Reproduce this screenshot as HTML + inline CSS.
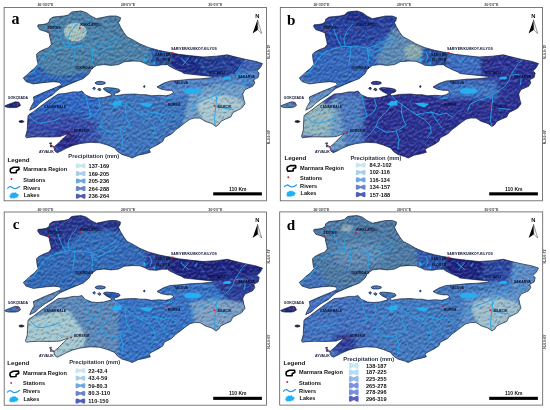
<!DOCTYPE html>
<html><head><meta charset="utf-8"><title>Precipitation maps</title>
<style>
html,body{margin:0;padding:0;background:#fff}
svg{display:block}
text{font-family:"Liberation Sans",sans-serif}
.lt{font-size:5.6px;font-weight:bold;fill:#111}
.lg{font-size:6.2px;font-weight:bold;fill:#111}
.st{font-size:3.5px;font-weight:bold;fill:#0b1030}
.sl{opacity:.75}
.tk{font-size:3.5px;font-weight:bold;fill:#444}
.pl{font-family:"Liberation Serif",serif;font-weight:bold;font-size:17.5px;fill:#000}
</style></head><body>
<svg width="550" height="410" viewBox="0 0 550 410">
<defs>
<path id="landp" d="M37.6,26.4 L38.1,24.8 L42.0,24.6 L46.4,23.7 L49.1,22.0 L49.7,19.3 L53.0,17.1 L58.5,16.5 L64.0,16.0 L68.4,14.9 L71.6,12.1 L74.4,11.6 L81.0,11.0 L86.5,12.7 L90.9,16.0 L96.4,18.7 L101.9,17.6 L109.6,16.0 L116.2,16.0 L120.5,17.6 L120.0,20.4 L118.4,22.6 L120.5,27.0 L123.8,32.5 L127.1,36.9 L132.2,39.4 L139.5,43.7 L148.2,47.4 L158.5,50.3 L165.8,51.8 L172.0,52.8 L169.5,57.6 L168.9,62.0 L167.3,64.7 L162.0,64.7 L156.5,65.8 L148.8,65.3 L145.5,63.6 L140.0,61.3 L133.0,61.0 L124.3,61.7 L118.5,64.6 L111.2,65.4 L103.9,64.6 L96.5,65.4 L91.4,69.0 L89.2,73.4 L83.4,78.5 L76.0,81.4 L68.8,84.4 L60.0,88.3 L56.0,91.5 L52.4,94.9 L45.1,99.2 L39.2,103.6 L35.6,107.3 L29.7,110.2 L31.2,106.5 L34.1,101.4 L33.4,97.0 L40.0,94.1 L46.5,91.2 L53.9,88.3 L60.4,85.4 L61.2,84.6 L59.7,82.4 L53.9,81.7 L45.0,82.4 L33.4,83.9 L26.0,81.6 L23.3,77.9 L26.6,75.2 L29.9,71.9 L34.3,68.6 L38.1,64.2 L37.0,59.8 L36.5,54.3 L38.7,52.1 L44.2,49.3 L48.6,47.7 L51.3,44.4 L50.8,41.3 L49.7,36.9 L49.1,33.0 L45.3,31.4 L39.8,29.7Z M172.6,53.0 L178.5,54.3 L189.5,55.6 L203.2,57.0 L216.4,56.2 L227.4,54.8 L234.0,56.6 L245.0,59.2 L256.0,61.4 L262.5,63.6 L260.3,67.6 L257.0,70.9 L259.2,73.1 L258.1,77.5 L253.7,79.7 L254.8,83.0 L252.6,86.3 L245.0,89.6 L242.7,94.0 L243.8,99.5 L245.0,103.8 L241.6,108.2 L237.3,110.4 L232.9,112.6 L230.7,117.0 L225.2,119.2 L220.8,121.4 L218.6,124.7 L216.0,126.5 L212.0,123.6 L205.4,121.4 L200.0,118.1 L194.4,118.1 L190.0,119.2 L186.0,122.0 L180.0,126.7 L176.0,129.6 L171.6,134.0 L164.3,137.7 L162.9,141.3 L158.5,144.2 L151.2,147.9 L149.0,149.4 L150.4,152.3 L145.3,153.7 L138.0,155.2 L132.2,158.1 L129.2,156.7 L121.9,154.5 L117.5,151.5 L114.6,147.9 L107.3,145.0 L100.0,142.8 L90.0,142.3 L80.0,143.6 L72.7,145.5 L66.4,148.2 L61.0,151.0 L57.3,152.7 L55.0,151.3 L54.0,148.2 L54.5,146.4 L59.0,142.7 L61.4,140.0 L66.4,135.5 L68.0,133.6 L60.0,136.6 L50.0,137.0 L38.0,136.8 L30.0,137.2 L26.5,137.8 L25.5,136.5 L27.3,130.0 L27.5,124.0 L28.0,116.0 L29.0,114.6 L33.4,111.7 L39.2,107.3 L45.1,102.9 L52.4,97.8 L58.2,94.1 L65.5,93.4 L72.9,91.9 L78.7,91.9 L82.0,91.0 L85.0,94.7 L91.6,97.5 L97.1,98.0 L103.7,97.5 L110.3,95.8 L112.0,94.6 L110.0,93.3 L106.4,91.5 L103.3,89.0 L104.0,88.0 L107.0,87.6 L113.6,88.1 L119.0,89.2 L120.2,90.9 L118.0,92.5 L114.2,93.6 L114.5,95.0 L115.8,95.8 L123.5,94.4 L134.5,94.0 L140.5,94.7 L146.0,94.7 L151.5,95.8 L159.2,95.3 L165.8,95.8 L170.2,94.7 L174.0,92.3 L171.3,90.3 L166.9,90.3 L161.4,89.2 L157.0,87.0 L163.6,83.2 L170.2,81.0 L180.0,80.3 L191.0,79.2 L202.0,78.7 L213.0,77.5 L213.0,76.5 L202.0,75.4 L191.0,74.3 L184.0,73.5 L181.8,71.9 L176.3,69.7 L169.7,66.4 L167.7,64.9 L169.3,62.0 L169.9,57.6Z M4.6,106.0 L8.0,104.5 L12.0,103.0 L15.4,101.8 L19.0,102.3 L20.5,105.4 L18.0,107.0 L15.4,107.6 L9.2,107.6 L6.0,107.0Z M19.0,121.0 L22.0,120.4 L24.2,121.6 L22.0,122.6 L19.5,122.3Z M94.9,83.0 L97.0,81.6 L101.0,81.3 L105.0,82.2 L105.3,83.6 L102.0,84.5 L97.0,84.4Z M92.7,88.5 L94.0,87.0 L95.4,88.0 L94.5,89.8Z M97.6,89.5 L99.0,88.1 L101.0,89.3 L100.0,90.9Z M143.6,86.0 L144.8,85.6 L145.0,87.2 L143.8,87.3Z M49.6,143.0 L51.6,142.8 L51.2,144.0 L50.0,144.2Z M50.2,145.2 L52.0,145.0 L52.2,146.6 L50.6,147.0Z"/>
<clipPath id="land"><use href="#landp"/></clipPath>
<clipPath id="ella"><ellipse cx="75.2" cy="32" rx="11.3" ry="9.3"/></clipPath>
<filter id="b1" x="-30%" y="-30%" width="160%" height="160%"><feGaussianBlur stdDeviation="0.8"/></filter>
<filter id="b2" x="-30%" y="-30%" width="160%" height="160%"><feGaussianBlur stdDeviation="1.6"/></filter>
<filter id="b3" x="-30%" y="-30%" width="160%" height="160%"><feGaussianBlur stdDeviation="2.4000000000000004"/></filter>
<filter id="b4" x="-30%" y="-30%" width="160%" height="160%"><feGaussianBlur stdDeviation="3.2"/></filter>
<filter id="relief" x="0" y="0" width="100%" height="100%" color-interpolation-filters="sRGB">
<feTurbulence type="fractalNoise" baseFrequency="0.3 0.6" numOctaves="4" seed="7"/>
<feDiffuseLighting surfaceScale="2" diffuseConstant="0.75" lighting-color="#ffffff"><feDistantLight azimuth="315" elevation="45"/></feDiffuseLighting>
</filter>
<path id="bow" d="M-4.6,-1.6 C-3,-2.4 -1.5,-1.2 0,-0.9 C1.5,-1.2 3,-2.4 4.6,-1.6 C5,-0.5 5,0.8 4.6,1.8 C3,2.4 1.5,1.2 0,0.9 C-1.5,1.2 -3,2.4 -4.6,1.8 C-5,0.8 -5,-0.5 -4.6,-1.6Z"/>
<g id="rivers" fill="none" stroke="#25a4ea" stroke-width="0.95" stroke-linecap="round" stroke-linejoin="round"><path d="M26.0,74.0 L34.0,72.0 L40.0,62.2 L45.8,54.9 L53.2,50.5 L62.0,47.6 L69.2,46.1 L75.0,46.8 L83.9,46.8 L91.2,48.3 L94.1,53.4"/><path d="M64.9,46.1 L62.0,40.3 L59.0,33.0 L56.0,24.2"/><path d="M69.2,46.1 L67.8,38.8 L70.7,31.5 L76.5,24.2"/><path d="M75.0,46.8 L74.4,53.4 L72.9,63.6"/><path d="M91.2,48.3 L92.6,56.3 L91.9,63.6"/><path d="M94.1,53.4 L102.9,50.5 L113.1,44.6 L119.0,40.3"/><path d="M91.2,48.3 L105.8,43.2 L116.0,35.9"/><path d="M116.6,96.6 L120.2,101.0 L126.1,104.6 L131.9,109.0 L140.7,114.9 L148.0,119.2 L153.9,125.1 L155.3,132.4 L151.0,138.2"/><path d="M126.1,104.6 L125.4,112.0 L127.6,120.7 L130.5,125.0 L120.2,131.0 L123.2,139.7 L121.7,148.5"/><path d="M115.1,106.0 L110.0,112.0 L102.7,119.2 L99.8,126.5 L95.4,132.4 L89.5,138.2"/><path d="M98.3,98.8 L100.5,106.0 L97.6,112.0 L91.0,116.3 L83.7,119.2"/><path d="M99.8,126.5 L110.0,132.4 L120.2,131.0"/><path d="M140.7,114.9 L146.6,113.4 L155.3,112.0 L163.7,114.9 L170.0,113.0 L176.0,117.0"/><path d="M155.3,112.0 L160.0,120.0 L166.0,128.0"/><path d="M29.1,115.7 L33.5,120.0 L37.9,123.0 L43.0,123.0 L48.9,121.5 L53.3,120.8 L60.0,118.0"/><path d="M85.5,94.5 L88.0,105.5 L91.0,116.3"/><path d="M246.7,59.0 L241.7,64.0 L237.9,70.0 L234.9,75.1 L232.7,81.0 L228.4,86.8 L221.8,91.2 L215.9,94.9 L216.7,99.2 L215.9,105.1 L215.2,112.4 L214.5,119.7 L215.5,126.0"/><path d="M215.9,94.9 L208.6,98.5 L201.3,100.7 L194.0,104.4 L191.7,111.0"/><path d="M234.9,75.1 L242.2,74.4 L245.2,78.8 L244.4,84.6"/><path d="M217.4,106.5 L225.0,108.5 L233.5,109.5"/><path d="M163.7,99.0 L171.7,98.0"/><path d="M181.0,58.5 L188.5,65.0"/><path d="M188.5,58.5 L183.0,65.0"/><path d="M197.0,58.6 L195.0,62.0"/><path d="M150.0,52.0 L152.0,57.0 L150.0,61.0"/></g>
<g id="streams" fill="none" stroke="#3a9ae6" stroke-width="0.5" opacity="0.7" stroke-linecap="round"><path d="M63.4,28.7 L64.5,36.0 L65.6,43.3"/><path d="M83.9,28.7 L76.5,37.4 L72.9,45.5"/><path d="M91.2,31.6 L82.4,40.4 L76.5,46.2"/><path d="M99.0,30.0 L92.0,39.0 L86.0,46.5"/><path d="M108.0,26.0 L101.0,36.0 L96.0,44.0"/><path d="M52.0,30.0 L56.0,38.0 L60.0,45.0"/><path d="M100.0,56.0 L108.0,53.0 L116.0,47.0"/><path d="M44.0,66.0 L52.0,62.0 L60.0,56.0"/><path d="M134.0,100.0 L136.0,108.0 L140.7,114.9"/><path d="M60.0,100.0 L66.0,108.0 L72.0,112.0 L83.7,119.2"/><path d="M200.0,60.0 L203.0,68.0 L208.0,74.0"/><path d="M222.0,60.0 L226.0,66.0 L230.0,72.0"/><path d="M228.0,100.0 L232.0,94.0 L240.0,90.0"/><path d="M176.0,117.0 L182.0,112.0 L188.0,108.0"/></g>
</defs>
<rect width="550" height="410" fill="#fff"/>
<g transform="translate(0.0,0.0)">
<g clip-path="url(#land)">
<rect x="0" y="0" width="275" height="205" fill="#3b72bd"/>
<path d="M20.0,5.0 L175.0,5.0 L171.5,70.0 L80.0,80.0 L20.0,120.0Z" fill="#4a7fa8" opacity="1"/>
<path d="M18.0,62.0 L38.0,63.0 L47.0,73.0 L58.0,76.5 L72.0,75.0 L88.0,71.5 L88.0,92.0 L25.0,115.0Z" fill="#2f62b6" opacity="1" filter="url(#b2)"/>
<ellipse cx="75.2" cy="32" rx="11.3" ry="9.3" fill="#a0bcb8" opacity="1"/>
<g clip-path="url(#ella)" stroke="#dfeee8" stroke-width="0.55" opacity="0.55"><path d="M60.0,44 L67.0,20"/><path d="M62.6,44 L69.6,20"/><path d="M65.2,44 L72.2,20"/><path d="M67.8,44 L74.8,20"/><path d="M70.4,44 L77.4,20"/><path d="M73.0,44 L80.0,20"/><path d="M75.6,44 L82.6,20"/><path d="M78.2,44 L85.2,20"/><path d="M80.8,44 L87.8,20"/><path d="M83.4,44 L90.4,20"/><path d="M86.0,44 L93.0,20"/><path d="M88.6,44 L95.6,20"/></g>
<path d="M150.0,44.0 L172.0,50.0 L172.0,70.0 L150.0,70.0Z" fill="#2a57a8" opacity="1" filter="url(#b2)"/>
<path d="M171.0,50.0 L270.0,50.0 L270.0,80.0 L160.0,100.0Z" fill="#4f82c6" opacity="1"/>
<path d="M171.5,50.0 L198.0,50.0 L247.6,58.6 L244.0,64.0 L235.5,73.0 L222.0,76.0 L205.0,77.0 L183.0,73.0 L170.0,66.0Z" fill="#1d2a86" opacity="1" filter="url(#b1)"/>
<path d="M198.0,52.0 L250.0,56.0 L244.0,64.0 L235.5,73.0 L222.0,76.0 L205.0,77.0 L200.0,70.0Z" fill="#243a95" opacity="1" filter="url(#b2)"/>
<path d="M247.6,56.0 L266.0,60.0 L262.0,70.0 L240.0,72.0 L244.0,64.0Z" fill="#3d62b5" opacity="1" filter="url(#b1)"/>
<path d="M189.5,92.6 L215.8,83.9 L242.0,84.0 L252.0,90.0 L250.0,115.0 L215.0,135.0 L182.0,128.0Z" fill="#6d9cc8" opacity="1" filter="url(#b1)"/>
<path d="M199.3,100.3 L208.0,96.0 L222.4,94.8 L237.7,98.0 L244.3,103.6 L246.5,108.0 L234.4,115.7 L225.7,120.0 L220.0,127.7 L216.0,131.0 L209.0,126.6 L202.6,119.0 L197.0,108.0Z" fill="#a5c5cf" opacity="1" filter="url(#b1)"/>
<path d="M20.0,88.0 L100.0,90.0 L100.0,118.0 L20.0,118.0Z" fill="#2f66c4" opacity="1" filter="url(#b3)"/>
<path d="M20.0,116.4 L61.0,113.6 L82.7,115.0 L99.0,124.5 L100.0,150.0 L40.0,155.0 L20.0,140.0Z" fill="#3448a8" opacity="1" filter="url(#b3)"/>
<ellipse cx="66" cy="140" rx="13" ry="9" fill="#27288a" opacity="1" filter="url(#b3)"/>
<ellipse cx="12.5" cy="105" rx="10" ry="5" fill="#1d2478" opacity="1"/>
<ellipse cx="21.5" cy="121.5" rx="4" ry="3" fill="#101540" opacity="1"/>
<rect x="-200" y="-200" width="700" height="700" transform="rotate(-50 137 102)" filter="url(#relief)" opacity="0.42" style="mix-blend-mode:hard-light"/>
</g>
<use href="#landp" fill="none" stroke="#0a1230" stroke-width="0.65" stroke-linejoin="round"/>
<g clip-path="url(#land)"><use href="#streams"/><use href="#rivers"/></g>
<g>
<path d="M183.8,91.0 L186.0,88.6 L193.0,88.3 L200.0,89.3 L202.0,91.5 L199.0,93.6 L190.0,94.0 L185.0,93.2Z" fill="#22b0f2"/>
<path d="M222.7,78.0 L225.0,76.8 L230.0,76.6 L231.7,78.0 L229.0,79.4 L224.0,79.3Z" fill="#22b0f2"/>
<path d="M111.0,104.6 L115.1,101.0 L121.0,101.0 L121.7,105.4 L115.1,106.0Z" fill="#22b0f2"/>
<path d="M138.5,103.2 L145.1,102.4 L153.1,103.9 L148.0,107.5 L143.7,106.0Z" fill="#22b0f2"/>
<path d="M143.0,58.0 L145.0,57.4 L145.6,61.0 L143.8,61.6Z" fill="#22b0f2"/>
<path d="M153.3,62.4 L155.0,62.0 L155.4,64.6 L153.8,65.0Z" fill="#22b0f2"/>
<circle cx="48" cy="31.4" r="1" fill="#e3152b"/>
<text x="47.5" y="29.2" class="st">EDİRNE</text>
<circle cx="79.9" cy="28.1" r="1" fill="#e3152b"/>
<text x="80.4" y="26.4" class="st">KIRKLARELİ</text>
<text x="75" y="69" class="st">TEKİRDAĞ</text>
<circle cx="172.6" cy="52.9" r="1" fill="#e3152b"/>
<text x="171" y="50.4" class="st">SARIYER/KUMKÖY-KİLYOS</text>
<text x="155" y="55.5" class="st">SARIYER</text>
<text x="156" y="61.3" class="st">FLORYA</text>
<text x="209" y="73.6" class="st">KOCAELİ</text>
<circle cx="235.4" cy="75.4" r="1" fill="#e3152b"/>
<text x="237.9" y="78.2" class="st">SAKARYA</text>
<text x="174" y="84.4" class="st">YALOVA</text>
<circle cx="167.2" cy="101.8" r="1" fill="#e3152b"/>
<text x="168" y="106" class="st">BURSA</text>
<circle cx="214.4" cy="105.7" r="1" fill="#e3152b"/>
<text x="217.6" y="107.6" class="st">BİLECİK</text>
<text x="44" y="107.6" class="st">ÇANAKKALE</text>
<circle cx="17.5" cy="103.8" r="1" fill="#e3152b"/>
<text x="7.7" y="99.1" class="st">GÖKÇEADA</text>
<circle cx="71" cy="133" r="1" fill="#e3152b"/>
<text x="74" y="132" class="st">EDREMİT</text>
<circle cx="53.2" cy="146.8" r="1" fill="#e3152b"/>
<text x="39" y="152.7" class="st">AYVALIK</text>
<text x="257.3" y="17.6" text-anchor="middle" font-size="5.8" font-weight="bold" fill="#111">N</text>
<path d="M257.5,19.8 L252.6,33.5 L257.9,29.7 Z" fill="#000"/>
<path d="M257.5,19.8 L261.7,33.5 L257.9,29.7 Z" fill="#fff" stroke="#000" stroke-width="0.4"/>
<rect x="213.2" y="192.3" width="48.7" height="3.1" fill="#000"/>
<text x="237.8" y="190.9" text-anchor="middle" font-size="5" font-weight="bold" fill="#111">110 Km</text>
<text x="45.4" y="6" text-anchor="middle" class="tk">26°30'0"E</text>
<text x="128" y="6" text-anchor="middle" class="tk">28°0'0"E</text>
<text x="215.3" y="6" text-anchor="middle" class="tk">30°0'0"E</text>
<text transform="translate(267.3,52) rotate(90)" text-anchor="middle" class="tk">41°0'0"N</text>
<text transform="translate(267.3,137.3) rotate(90)" text-anchor="middle" class="tk">40°0'0"N</text>
</g>
<text x="68.3" y="158.3" class="lt" style="font-size:5.8px;fill:#2b3147">Precipitation (mm)</text>
<use href="#bow" transform="translate(80.7,165.8) scale(1,1.3)" fill="#cbe6ef"/>
<text x="88.6" y="167.8" class="lt">137-169</text>
<use href="#bow" transform="translate(80.7,173.5) scale(1,1.3)" fill="#a9cfec"/>
<text x="88.6" y="175.5" class="lt">169-205</text>
<use href="#bow" transform="translate(80.7,180.9) scale(1,1.3)" fill="#6fa8dc"/>
<text x="88.6" y="182.9" class="lt">205-236</text>
<use href="#bow" transform="translate(80.7,188.5) scale(1,1.3)" fill="#6b85cc"/>
<text x="88.6" y="190.5" class="lt">264-288</text>
<use href="#bow" transform="translate(80.7,196.1) scale(1,1.3)" fill="#5060b8"/>
<text x="88.6" y="198.1" class="lt">236-264</text>
<g transform="translate(0,0)"><g>
<text x="7.6" y="161.6" class="lg">Legend</text>
<path d="M10.5,169 L13.5,167.3 L18.8,167.2 L19,169.5 L16.5,170.5 L16.3,172.6 L11,172.8 L10.2,171Z" fill="#fff" stroke="#000" stroke-width="1.6" stroke-linejoin="round"/>
<text x="23.3" y="171.4" class="lt">Marmara Region</text>
<circle cx="11.5" cy="179" r="0.95" fill="#d8152a"/>
<text x="23.3" y="181.6" class="lt">Stations</text>
<path d="M7.8,188.2 C9.5,186.2 11,186.4 12.6,187.8 C14.4,189.3 17,188.6 19.6,186.6" fill="none" stroke="#2b98e6" stroke-width="1.3" stroke-linecap="round"/>
<text x="23.3" y="189.5" class="lt">Rivers</text>
<path d="M9.5,196.4 L10.6,195 L10.2,194 L12,193.6 L12.6,192.7 L14.6,192.9 L15.8,192.6 L16.6,193.8 L18.2,194.2 L18.6,195.6 L17.4,196.3 L17.8,197.2 L15.6,197.4 L14.4,198.3 L12.4,197.9 L10.6,198.3 L10.4,197.2Z" fill="#1fb0f4" stroke="#1fb0f4" stroke-width="0.4" stroke-linejoin="round"/>
<text x="23.7" y="197.1" class="lt">Lakes</text>
</g></g>
<text x="11.6" y="23.9" class="pl" style="font-size:16px">a</text>
</g>
<rect x="4.1" y="7.5" width="262.3" height="193.3" fill="none" stroke="#5a5a5a" stroke-width="0.8"/>
<g transform="translate(276.0,0.0)">
<g clip-path="url(#land)">
<rect x="0" y="0" width="275" height="205" fill="#292f92"/>
<path d="M20.0,5.0 L175.0,5.0 L171.5,70.0 L80.0,80.0 L20.0,120.0Z" fill="#3166bd" opacity="1"/>
<path d="M30.0,5.0 L125.0,5.0 L118.0,30.0 L95.0,46.0 L60.0,48.0 L30.0,52.0Z" fill="#27409f" opacity="1" filter="url(#b2)"/>
<ellipse cx="82" cy="16" rx="16" ry="7" fill="#1f2f8a" opacity="1" filter="url(#b3)"/>
<path d="M116.0,28.0 L99.5,60.0 L110.0,70.0 L175.0,70.0 L175.0,40.0Z" fill="#5a88b5" opacity="1" filter="url(#b1)"/>
<ellipse cx="137" cy="51.7" rx="9.2" ry="7.7" fill="#8aaab0" opacity="1" filter="url(#b1)"/>
<path d="M147.5,44.0 L173.0,50.0 L172.0,70.0 L146.0,70.0Z" fill="#2a55a8" opacity="1" filter="url(#b1)"/>
<path d="M18.0,80.0 L62.0,84.0 L40.0,112.0 L25.0,112.0Z" fill="#5a8ac0" opacity="1" filter="url(#b2)"/>
<path d="M171.0,50.0 L205.0,50.0 L205.0,80.0 L171.0,72.0Z" fill="#3a6ac0" opacity="1" filter="url(#b2)"/>
<path d="M160.0,80.0 L222.0,80.0 L222.0,99.0 L160.0,98.0Z" fill="#3d73c2" opacity="1" filter="url(#b3)"/>
<path d="M62.0,93.0 L88.0,93.0 L88.0,150.0 L50.0,150.0Z" fill="#4a78c0" opacity="1" filter="url(#b3)"/>
<path d="M62.0,95.0 L70.0,150.0 L40.0,150.0 L30.0,120.0Z" fill="#6a9ac5" opacity="1" filter="url(#b2)"/>
<path d="M20.0,108.0 L45.0,100.0 L58.0,112.0 L52.0,136.0 L20.0,136.0Z" fill="#8fb5c0" opacity="1" filter="url(#b2)"/>
<ellipse cx="12.5" cy="105" rx="10" ry="5" fill="#4a80b8" opacity="1"/>
<ellipse cx="21.5" cy="121.5" rx="4" ry="3" fill="#101540" opacity="1"/>
<rect x="-200" y="-200" width="700" height="700" transform="rotate(-50 137 102)" filter="url(#relief)" opacity="0.42" style="mix-blend-mode:hard-light"/>
</g>
<use href="#landp" fill="none" stroke="#0a1230" stroke-width="0.65" stroke-linejoin="round"/>
<g clip-path="url(#land)"><use href="#streams"/><use href="#rivers"/></g>
<g>
<path d="M183.8,91.0 L186.0,88.6 L193.0,88.3 L200.0,89.3 L202.0,91.5 L199.0,93.6 L190.0,94.0 L185.0,93.2Z" fill="#22b0f2"/>
<path d="M222.7,78.0 L225.0,76.8 L230.0,76.6 L231.7,78.0 L229.0,79.4 L224.0,79.3Z" fill="#22b0f2"/>
<path d="M111.0,104.6 L115.1,101.0 L121.0,101.0 L121.7,105.4 L115.1,106.0Z" fill="#22b0f2"/>
<path d="M138.5,103.2 L145.1,102.4 L153.1,103.9 L148.0,107.5 L143.7,106.0Z" fill="#22b0f2"/>
<path d="M143.0,58.0 L145.0,57.4 L145.6,61.0 L143.8,61.6Z" fill="#22b0f2"/>
<path d="M153.3,62.4 L155.0,62.0 L155.4,64.6 L153.8,65.0Z" fill="#22b0f2"/>
<circle cx="48" cy="31.4" r="1" fill="#e3152b"/>
<text x="47.5" y="29.2" class="st">EDİRNE</text>
<circle cx="79.9" cy="28.1" r="1" fill="#e3152b"/>
<text x="80.4" y="26.4" class="st">KIRKLARELİ</text>
<text x="75" y="69" class="st">TEKİRDAĞ</text>
<circle cx="172.6" cy="52.9" r="1" fill="#e3152b"/>
<text x="171" y="50.4" class="st">SARIYER/KUMKÖY-KİLYOS</text>
<text x="155" y="55.5" class="st">SARIYER</text>
<text x="156" y="61.3" class="st">FLORYA</text>
<text x="209" y="73.6" class="st">KOCAELİ</text>
<circle cx="235.4" cy="75.4" r="1" fill="#e3152b"/>
<text x="237.9" y="78.2" class="st">SAKARYA</text>
<text x="174" y="84.4" class="st">YALOVA</text>
<circle cx="167.2" cy="101.8" r="1" fill="#e3152b"/>
<text x="168" y="106" class="st">BURSA</text>
<circle cx="214.4" cy="105.7" r="1" fill="#e3152b"/>
<text x="217.6" y="107.6" class="st">BİLECİK</text>
<text x="44" y="107.6" class="st">ÇANAKKALE</text>
<circle cx="17.5" cy="103.8" r="1" fill="#e3152b"/>
<text x="7.7" y="99.1" class="st">GÖKÇEADA</text>
<circle cx="71" cy="133" r="1" fill="#e3152b"/>
<text x="74" y="132" class="st">EDREMİT</text>
<circle cx="53.2" cy="146.8" r="1" fill="#e3152b"/>
<text x="39" y="152.7" class="st">AYVALIK</text>
<text x="257.3" y="17.6" text-anchor="middle" font-size="5.8" font-weight="bold" fill="#111">N</text>
<path d="M257.5,19.8 L252.6,33.5 L257.9,29.7 Z" fill="#000"/>
<path d="M257.5,19.8 L261.7,33.5 L257.9,29.7 Z" fill="#fff" stroke="#000" stroke-width="0.4"/>
<rect x="213.2" y="192.3" width="48.7" height="3.1" fill="#000"/>
<text x="237.8" y="190.9" text-anchor="middle" font-size="5" font-weight="bold" fill="#111">110 Km</text>
<text x="45.4" y="6" text-anchor="middle" class="tk">26°30'0"E</text>
<text x="128" y="6" text-anchor="middle" class="tk">28°0'0"E</text>
<text x="215.3" y="6" text-anchor="middle" class="tk">30°0'0"E</text>
<text transform="translate(267.3,52) rotate(90)" text-anchor="middle" class="tk">41°0'0"N</text>
<text transform="translate(267.3,137.3) rotate(90)" text-anchor="middle" class="tk">40°0'0"N</text>
</g>
<text x="74.5" y="160.2" class="lt" style="font-size:5.8px;fill:#2b3147">Precipitation (mm)</text>
<use href="#bow" transform="translate(84.7,165.2) scale(1,1.3)" fill="#cbe6ef"/>
<text x="93.6" y="167.2" class="lt">84.2-102</text>
<use href="#bow" transform="translate(84.7,172.4) scale(1,1.3)" fill="#a9cfec"/>
<text x="93.6" y="174.4" class="lt">102-116</text>
<use href="#bow" transform="translate(84.7,179.8) scale(1,1.3)" fill="#6fa8dc"/>
<text x="93.6" y="181.8" class="lt">116-134</text>
<use href="#bow" transform="translate(84.7,187.2) scale(1,1.3)" fill="#6b85cc"/>
<text x="93.6" y="189.2" class="lt">134-157</text>
<use href="#bow" transform="translate(84.7,194.5) scale(1,1.3)" fill="#5060b8"/>
<text x="93.6" y="196.5" class="lt">157-188</text>
<g transform="translate(0.8,-1.7)"><g>
<text x="7.6" y="161.6" class="lg">Legend</text>
<path d="M10.5,169 L13.5,167.3 L18.8,167.2 L19,169.5 L16.5,170.5 L16.3,172.6 L11,172.8 L10.2,171Z" fill="#fff" stroke="#000" stroke-width="1.6" stroke-linejoin="round"/>
<text x="23.3" y="171.4" class="lt">Marmara Region</text>
<circle cx="11.5" cy="179" r="0.95" fill="#d8152a"/>
<text x="23.3" y="181.6" class="lt">Stations</text>
<path d="M7.8,188.2 C9.5,186.2 11,186.4 12.6,187.8 C14.4,189.3 17,188.6 19.6,186.6" fill="none" stroke="#2b98e6" stroke-width="1.3" stroke-linecap="round"/>
<text x="23.3" y="189.5" class="lt">Rivers</text>
<path d="M9.5,196.4 L10.6,195 L10.2,194 L12,193.6 L12.6,192.7 L14.6,192.9 L15.8,192.6 L16.6,193.8 L18.2,194.2 L18.6,195.6 L17.4,196.3 L17.8,197.2 L15.6,197.4 L14.4,198.3 L12.4,197.9 L10.6,198.3 L10.4,197.2Z" fill="#1fb0f4" stroke="#1fb0f4" stroke-width="0.4" stroke-linejoin="round"/>
<text x="23.7" y="197.1" class="lt">Lakes</text>
</g></g>
<text x="11.0" y="25.0" class="pl" style="font-size:15.2px">b</text>
</g>
<rect x="280.3" y="7.5" width="262.3" height="193.3" fill="none" stroke="#5a5a5a" stroke-width="0.8"/>
<g transform="translate(0.0,204.5)">
<g clip-path="url(#land)">
<rect x="0" y="0" width="275" height="205" fill="#3470c4"/>
<path d="M20.0,5.0 L175.0,5.0 L171.5,70.0 L80.0,80.0 L20.0,120.0Z" fill="#3068b8" opacity="1"/>
<path d="M30.0,5.0 L125.0,5.0 L120.0,27.0 L103.6,24.4 L81.8,27.2 L68.0,38.1 L58.6,46.4 L30.0,52.0Z" fill="#25358f" opacity="1" filter="url(#b1)"/>
<path d="M18.0,82.0 L62.0,84.0 L40.0,112.0 L25.0,112.0Z" fill="#4a7ab8" opacity="1" filter="url(#b2)"/>
<path d="M146.0,46.0 L173.0,50.0 L172.0,70.0 L146.0,70.0Z" fill="#2a3f9a" opacity="1" filter="url(#b2)"/>
<path d="M171.5,50.0 L270.0,50.0 L270.0,70.0 L235.5,75.0 L222.0,77.0 L205.0,78.0 L183.0,74.0 L170.0,66.0Z" fill="#1a2080" opacity="1" filter="url(#b1)"/>
<path d="M213.0,78.0 L265.0,66.0 L264.0,102.0 L238.0,102.0 L224.0,92.0Z" fill="#2a3a95" opacity="1" filter="url(#b2)"/>
<path d="M190.0,98.0 L215.0,94.0 L245.0,98.0 L248.0,108.0 L225.0,124.0 L215.0,132.0 L195.0,120.0Z" fill="#7a9ec5" opacity="1" filter="url(#b2)"/>
<path d="M20.0,85.0 L100.0,88.0 L112.0,93.0 L118.5,100.0 L118.5,160.0 L20.0,160.0Z" fill="#5a86b8" opacity="1" filter="url(#b1)"/>
<path d="M20.0,116.0 L30.0,113.4 L48.0,108.5 L66.0,104.4 L73.0,111.0 L78.0,119.4 L84.0,127.0 L86.0,133.4 L85.0,139.0 L82.0,143.4 L80.0,155.0 L20.0,155.0Z" fill="#a2c6d0" opacity="1" filter="url(#b1)"/>
<ellipse cx="111" cy="91" rx="8" ry="4" fill="#2a5ab0" opacity="1" filter="url(#b1)"/>
<ellipse cx="12.5" cy="105" rx="10" ry="5" fill="#3a70b8" opacity="1"/>
<ellipse cx="21.5" cy="121.5" rx="4" ry="3" fill="#101540" opacity="1"/>
<rect x="-200" y="-200" width="700" height="700" transform="rotate(-50 137 102)" filter="url(#relief)" opacity="0.42" style="mix-blend-mode:hard-light"/>
</g>
<use href="#landp" fill="none" stroke="#0a1230" stroke-width="0.65" stroke-linejoin="round"/>
<g clip-path="url(#land)"><use href="#streams"/><use href="#rivers"/></g>
<g>
<path d="M183.8,91.0 L186.0,88.6 L193.0,88.3 L200.0,89.3 L202.0,91.5 L199.0,93.6 L190.0,94.0 L185.0,93.2Z" fill="#22b0f2"/>
<path d="M222.7,78.0 L225.0,76.8 L230.0,76.6 L231.7,78.0 L229.0,79.4 L224.0,79.3Z" fill="#22b0f2"/>
<path d="M111.0,104.6 L115.1,101.0 L121.0,101.0 L121.7,105.4 L115.1,106.0Z" fill="#22b0f2"/>
<path d="M138.5,103.2 L145.1,102.4 L153.1,103.9 L148.0,107.5 L143.7,106.0Z" fill="#22b0f2"/>
<path d="M143.0,58.0 L145.0,57.4 L145.6,61.0 L143.8,61.6Z" fill="#22b0f2"/>
<path d="M153.3,62.4 L155.0,62.0 L155.4,64.6 L153.8,65.0Z" fill="#22b0f2"/>
<circle cx="48" cy="31.4" r="1" fill="#e3152b"/>
<text x="47.5" y="29.2" class="st">EDİRNE</text>
<circle cx="79.9" cy="28.1" r="1" fill="#e3152b"/>
<text x="80.4" y="26.4" class="st">KIRKLARELİ</text>
<text x="75" y="69" class="st">TEKİRDAĞ</text>
<circle cx="172.6" cy="52.9" r="1" fill="#e3152b"/>
<text x="171" y="50.4" class="st">SARIYER/KUMKÖY-KİLYOS</text>
<text x="155" y="55.5" class="st">SARIYER</text>
<text x="156" y="61.3" class="st">FLORYA</text>
<text x="209" y="73.6" class="st">KOCAELİ</text>
<circle cx="235.4" cy="75.4" r="1" fill="#e3152b"/>
<text x="237.9" y="78.2" class="st">SAKARYA</text>
<text x="174" y="84.4" class="st">YALOVA</text>
<circle cx="167.2" cy="101.8" r="1" fill="#e3152b"/>
<text x="168" y="106" class="st">BURSA</text>
<circle cx="214.4" cy="105.7" r="1" fill="#e3152b"/>
<text x="217.6" y="107.6" class="st">BİLECİK</text>
<text x="44" y="107.6" class="st">ÇANAKKALE</text>
<circle cx="17.5" cy="103.8" r="1" fill="#e3152b"/>
<text x="7.7" y="99.1" class="st">GÖKÇEADA</text>
<circle cx="71" cy="133" r="1" fill="#e3152b"/>
<text x="74" y="132" class="st">EDREMİT</text>
<circle cx="53.2" cy="146.8" r="1" fill="#e3152b"/>
<text x="39" y="152.7" class="st">AYVALIK</text>
<text x="257.3" y="17.6" text-anchor="middle" font-size="5.8" font-weight="bold" fill="#111">N</text>
<path d="M257.5,19.8 L252.6,33.5 L257.9,29.7 Z" fill="#000"/>
<path d="M257.5,19.8 L261.7,33.5 L257.9,29.7 Z" fill="#fff" stroke="#000" stroke-width="0.4"/>
<rect x="213.2" y="192.3" width="48.7" height="3.1" fill="#000"/>
<text x="237.8" y="190.9" text-anchor="middle" font-size="5" font-weight="bold" fill="#111">110 Km</text>
<text x="45.4" y="6" text-anchor="middle" class="tk">26°30'0"E</text>
<text x="128" y="6" text-anchor="middle" class="tk">28°0'0"E</text>
<text x="215.3" y="6" text-anchor="middle" class="tk">30°0'0"E</text>
<text transform="translate(267.3,52) rotate(90)" text-anchor="middle" class="tk">41°0'0"N</text>
<text transform="translate(267.3,137.3) rotate(90)" text-anchor="middle" class="tk">40°0'0"N</text>
</g>
<text x="69.2" y="159.6" class="lt" style="font-size:5.8px;fill:#2b3147">Precipitation (mm)</text>
<use href="#bow" transform="translate(80.4,166.2) scale(1,1.3)" fill="#cbe6ef"/>
<text x="88.3" y="168.2" class="lt">22-43.4</text>
<use href="#bow" transform="translate(80.4,173.6) scale(1,1.3)" fill="#a9cfec"/>
<text x="88.3" y="175.6" class="lt">43.4-59</text>
<use href="#bow" transform="translate(80.4,181.1) scale(1,1.3)" fill="#6fa8dc"/>
<text x="88.3" y="183.1" class="lt">59-80.3</text>
<use href="#bow" transform="translate(80.4,188.9) scale(1,1.3)" fill="#6b85cc"/>
<text x="88.3" y="190.9" class="lt">80.3-110</text>
<use href="#bow" transform="translate(80.4,196.5) scale(1,1.3)" fill="#5060b8"/>
<text x="88.3" y="198.5" class="lt">110-150</text>
<g transform="translate(-0.3,-0.6)"><g>
<text x="7.6" y="161.6" class="lg">Legend</text>
<path d="M10.5,169 L13.5,167.3 L18.8,167.2 L19,169.5 L16.5,170.5 L16.3,172.6 L11,172.8 L10.2,171Z" fill="#fff" stroke="#000" stroke-width="1.6" stroke-linejoin="round"/>
<text x="23.3" y="171.4" class="lt">Marmara Region</text>
<circle cx="11.5" cy="179" r="0.95" fill="#d8152a"/>
<text x="23.3" y="181.6" class="lt">Stations</text>
<path d="M7.8,188.2 C9.5,186.2 11,186.4 12.6,187.8 C14.4,189.3 17,188.6 19.6,186.6" fill="none" stroke="#2b98e6" stroke-width="1.3" stroke-linecap="round"/>
<text x="23.3" y="189.5" class="lt">Rivers</text>
<path d="M9.5,196.4 L10.6,195 L10.2,194 L12,193.6 L12.6,192.7 L14.6,192.9 L15.8,192.6 L16.6,193.8 L18.2,194.2 L18.6,195.6 L17.4,196.3 L17.8,197.2 L15.6,197.4 L14.4,198.3 L12.4,197.9 L10.6,198.3 L10.4,197.2Z" fill="#1fb0f4" stroke="#1fb0f4" stroke-width="0.4" stroke-linejoin="round"/>
<text x="23.7" y="197.1" class="lt">Lakes</text>
</g></g>
<text x="12.7" y="24.1" class="pl" style="font-size:15.2px">c</text>
</g>
<rect x="4.2" y="212.0" width="262.2" height="193.2" fill="none" stroke="#5a5a5a" stroke-width="0.8"/>
<g transform="translate(276.0,204.5)">
<g clip-path="url(#land)">
<rect x="0" y="0" width="275" height="205" fill="#4077c0"/>
<path d="M20.0,5.0 L175.0,5.0 L171.5,70.0 L80.0,80.0 L20.0,120.0Z" fill="#4b78a4" opacity="1"/>
<ellipse cx="82" cy="50" rx="26" ry="13" fill="#6089b2" opacity="1" filter="url(#b4)"/>
<path d="M18.0,62.0 L40.0,62.0 L52.0,80.0 L75.0,86.0 L25.0,115.0Z" fill="#3f70b8" opacity="1" filter="url(#b3)"/>
<path d="M140.0,38.0 L173.0,48.0 L172.0,70.0 L143.0,70.0Z" fill="#2d58b0" opacity="1" filter="url(#b2)"/>
<ellipse cx="71" cy="24" rx="6" ry="4" fill="#8aa5b0" opacity="1" filter="url(#b1)"/>
<path d="M171.5,50.0 L210.0,50.0 L208.0,78.0 L183.0,74.0 L170.0,66.0Z" fill="#1a2080" opacity="1" filter="url(#b1)"/>
<path d="M208.0,50.0 L240.0,52.0 L232.0,76.0 L206.0,78.0Z" fill="#2a45a0" opacity="1" filter="url(#b2)"/>
<path d="M238.0,52.0 L268.0,58.0 L262.0,110.0 L240.0,110.0 L235.0,76.0Z" fill="#5a8ac5" opacity="1" filter="url(#b2)"/>
<path d="M189.5,92.6 L215.8,85.0 L240.0,86.0 L252.0,90.0 L250.0,115.0 L215.0,135.0 L183.0,128.0Z" fill="#5c8ec8" opacity="1" filter="url(#b3)"/>
<path d="M196.0,99.0 L210.0,94.0 L224.0,93.0 L240.0,97.0 L247.0,106.0 L235.0,116.0 L226.0,120.0 L221.0,128.0 L216.0,132.0 L209.0,127.0 L202.0,119.0 L196.0,108.0Z" fill="#9abccc" opacity="1" filter="url(#b1)"/>
<path d="M20.0,90.0 L100.0,90.0 L100.0,160.0 L20.0,160.0Z" fill="#3f6fc0" opacity="1" filter="url(#b4)"/>
<ellipse cx="68" cy="139" rx="12" ry="10" fill="#2a3a9a" opacity="1" filter="url(#b3)"/>
<ellipse cx="12.5" cy="105" rx="10" ry="5" fill="#1d2a88" opacity="1"/>
<ellipse cx="21.5" cy="121.5" rx="4" ry="3" fill="#101540" opacity="1"/>
<rect x="-200" y="-200" width="700" height="700" transform="rotate(-50 137 102)" filter="url(#relief)" opacity="0.42" style="mix-blend-mode:hard-light"/>
</g>
<use href="#landp" fill="none" stroke="#0a1230" stroke-width="0.65" stroke-linejoin="round"/>
<g clip-path="url(#land)"><use href="#streams"/><use href="#rivers"/></g>
<g>
<path d="M183.8,91.0 L186.0,88.6 L193.0,88.3 L200.0,89.3 L202.0,91.5 L199.0,93.6 L190.0,94.0 L185.0,93.2Z" fill="#22b0f2"/>
<path d="M222.7,78.0 L225.0,76.8 L230.0,76.6 L231.7,78.0 L229.0,79.4 L224.0,79.3Z" fill="#22b0f2"/>
<path d="M111.0,104.6 L115.1,101.0 L121.0,101.0 L121.7,105.4 L115.1,106.0Z" fill="#22b0f2"/>
<path d="M138.5,103.2 L145.1,102.4 L153.1,103.9 L148.0,107.5 L143.7,106.0Z" fill="#22b0f2"/>
<path d="M143.0,58.0 L145.0,57.4 L145.6,61.0 L143.8,61.6Z" fill="#22b0f2"/>
<path d="M153.3,62.4 L155.0,62.0 L155.4,64.6 L153.8,65.0Z" fill="#22b0f2"/>
<circle cx="48" cy="31.4" r="1" fill="#e3152b"/>
<text x="47.5" y="29.2" class="st">EDİRNE</text>
<circle cx="79.9" cy="28.1" r="1" fill="#e3152b"/>
<text x="80.4" y="26.4" class="st">KIRKLARELİ</text>
<text x="75" y="69" class="st">TEKİRDAĞ</text>
<circle cx="172.6" cy="52.9" r="1" fill="#e3152b"/>
<text x="171" y="50.4" class="st">SARIYER/KUMKÖY-KİLYOS</text>
<text x="155" y="55.5" class="st">SARIYER</text>
<text x="156" y="61.3" class="st">FLORYA</text>
<text x="209" y="73.6" class="st">KOCAELİ</text>
<circle cx="235.4" cy="75.4" r="1" fill="#e3152b"/>
<text x="237.9" y="78.2" class="st">SAKARYA</text>
<text x="174" y="84.4" class="st">YALOVA</text>
<circle cx="167.2" cy="101.8" r="1" fill="#e3152b"/>
<text x="168" y="106" class="st">BURSA</text>
<circle cx="214.4" cy="105.7" r="1" fill="#e3152b"/>
<text x="217.6" y="107.6" class="st">BİLECİK</text>
<text x="44" y="107.6" class="st">ÇANAKKALE</text>
<circle cx="17.5" cy="103.8" r="1" fill="#e3152b"/>
<text x="7.7" y="99.1" class="st">GÖKÇEADA</text>
<circle cx="71" cy="133" r="1" fill="#e3152b"/>
<text x="74" y="132" class="st">EDREMİT</text>
<circle cx="53.2" cy="146.8" r="1" fill="#e3152b"/>
<text x="39" y="152.7" class="st">AYVALIK</text>
<text x="257.3" y="17.6" text-anchor="middle" font-size="5.8" font-weight="bold" fill="#111">N</text>
<path d="M257.5,19.8 L252.6,33.5 L257.9,29.7 Z" fill="#000"/>
<path d="M257.5,19.8 L261.7,33.5 L257.9,29.7 Z" fill="#fff" stroke="#000" stroke-width="0.4"/>
<rect x="213.2" y="192.3" width="48.7" height="3.1" fill="#000"/>
<text x="237.8" y="190.9" text-anchor="middle" font-size="5" font-weight="bold" fill="#111">110 Km</text>
<text x="45.4" y="6" text-anchor="middle" class="tk">26°30'0"E</text>
<text x="128" y="6" text-anchor="middle" class="tk">28°0'0"E</text>
<text x="215.3" y="6" text-anchor="middle" class="tk">30°0'0"E</text>
<text transform="translate(267.3,52) rotate(90)" text-anchor="middle" class="tk">41°0'0"N</text>
<text transform="translate(267.3,137.3) rotate(90)" text-anchor="middle" class="tk">40°0'0"N</text>
</g>
<text x="67.3" y="156.6" class="lt" style="font-size:5.8px;fill:#2b3147">Precipitation (mm)</text>
<use href="#bow" transform="translate(77.8,161.2) scale(1,1.55)" fill="#c5e8f5"/>
<text x="90.0" y="163.2" class="lt">138-187</text>
<use href="#bow" transform="translate(77.8,167.8) scale(1,1.55)" fill="#b5dcf5"/>
<text x="90.0" y="169.8" class="lt">187-225</text>
<use href="#bow" transform="translate(77.8,174.4) scale(1,1.55)" fill="#8fb8ec"/>
<text x="90.0" y="176.4" class="lt">225-255</text>
<use href="#bow" transform="translate(77.8,181.0) scale(1,1.55)" fill="#7a95e0"/>
<text x="90.0" y="183.0" class="lt">265-278</text>
<use href="#bow" transform="translate(77.8,187.6) scale(1,1.55)" fill="#7a8fdc"/>
<text x="90.0" y="189.6" class="lt">278-296</text>
<use href="#bow" transform="translate(77.8,194.2) scale(1,1.55)" fill="#5a62c0"/>
<text x="90.0" y="196.2" class="lt">296-319</text>
<g transform="translate(-0.2,-1.5)"><g>
<text x="7.6" y="161.6" class="lg">Legend</text>
<path d="M10.5,169 L13.5,167.3 L18.8,167.2 L19,169.5 L16.5,170.5 L16.3,172.6 L11,172.8 L10.2,171Z" fill="#fff" stroke="#000" stroke-width="1.6" stroke-linejoin="round"/>
<text x="23.3" y="171.4" class="lt">Marmara Region</text>
<circle cx="11.5" cy="179" r="0.95" fill="#d8152a"/>
<text x="23.3" y="181.6" class="lt">Stations</text>
<path d="M7.8,188.2 C9.5,186.2 11,186.4 12.6,187.8 C14.4,189.3 17,188.6 19.6,186.6" fill="none" stroke="#2b98e6" stroke-width="1.3" stroke-linecap="round"/>
<text x="23.3" y="189.5" class="lt">Rivers</text>
<path d="M9.5,196.4 L10.6,195 L10.2,194 L12,193.6 L12.6,192.7 L14.6,192.9 L15.8,192.6 L16.6,193.8 L18.2,194.2 L18.6,195.6 L17.4,196.3 L17.8,197.2 L15.6,197.4 L14.4,198.3 L12.4,197.9 L10.6,198.3 L10.4,197.2Z" fill="#1fb0f4" stroke="#1fb0f4" stroke-width="0.4" stroke-linejoin="round"/>
<text x="23.7" y="197.1" class="lt">Lakes</text>
</g></g>
<text x="10.7" y="25.0" class="pl" style="font-size:15.2px">d</text>
</g>
<rect x="279.7" y="211.9" width="263.0" height="193.2" fill="none" stroke="#5a5a5a" stroke-width="0.8"/>
</svg></body></html>
